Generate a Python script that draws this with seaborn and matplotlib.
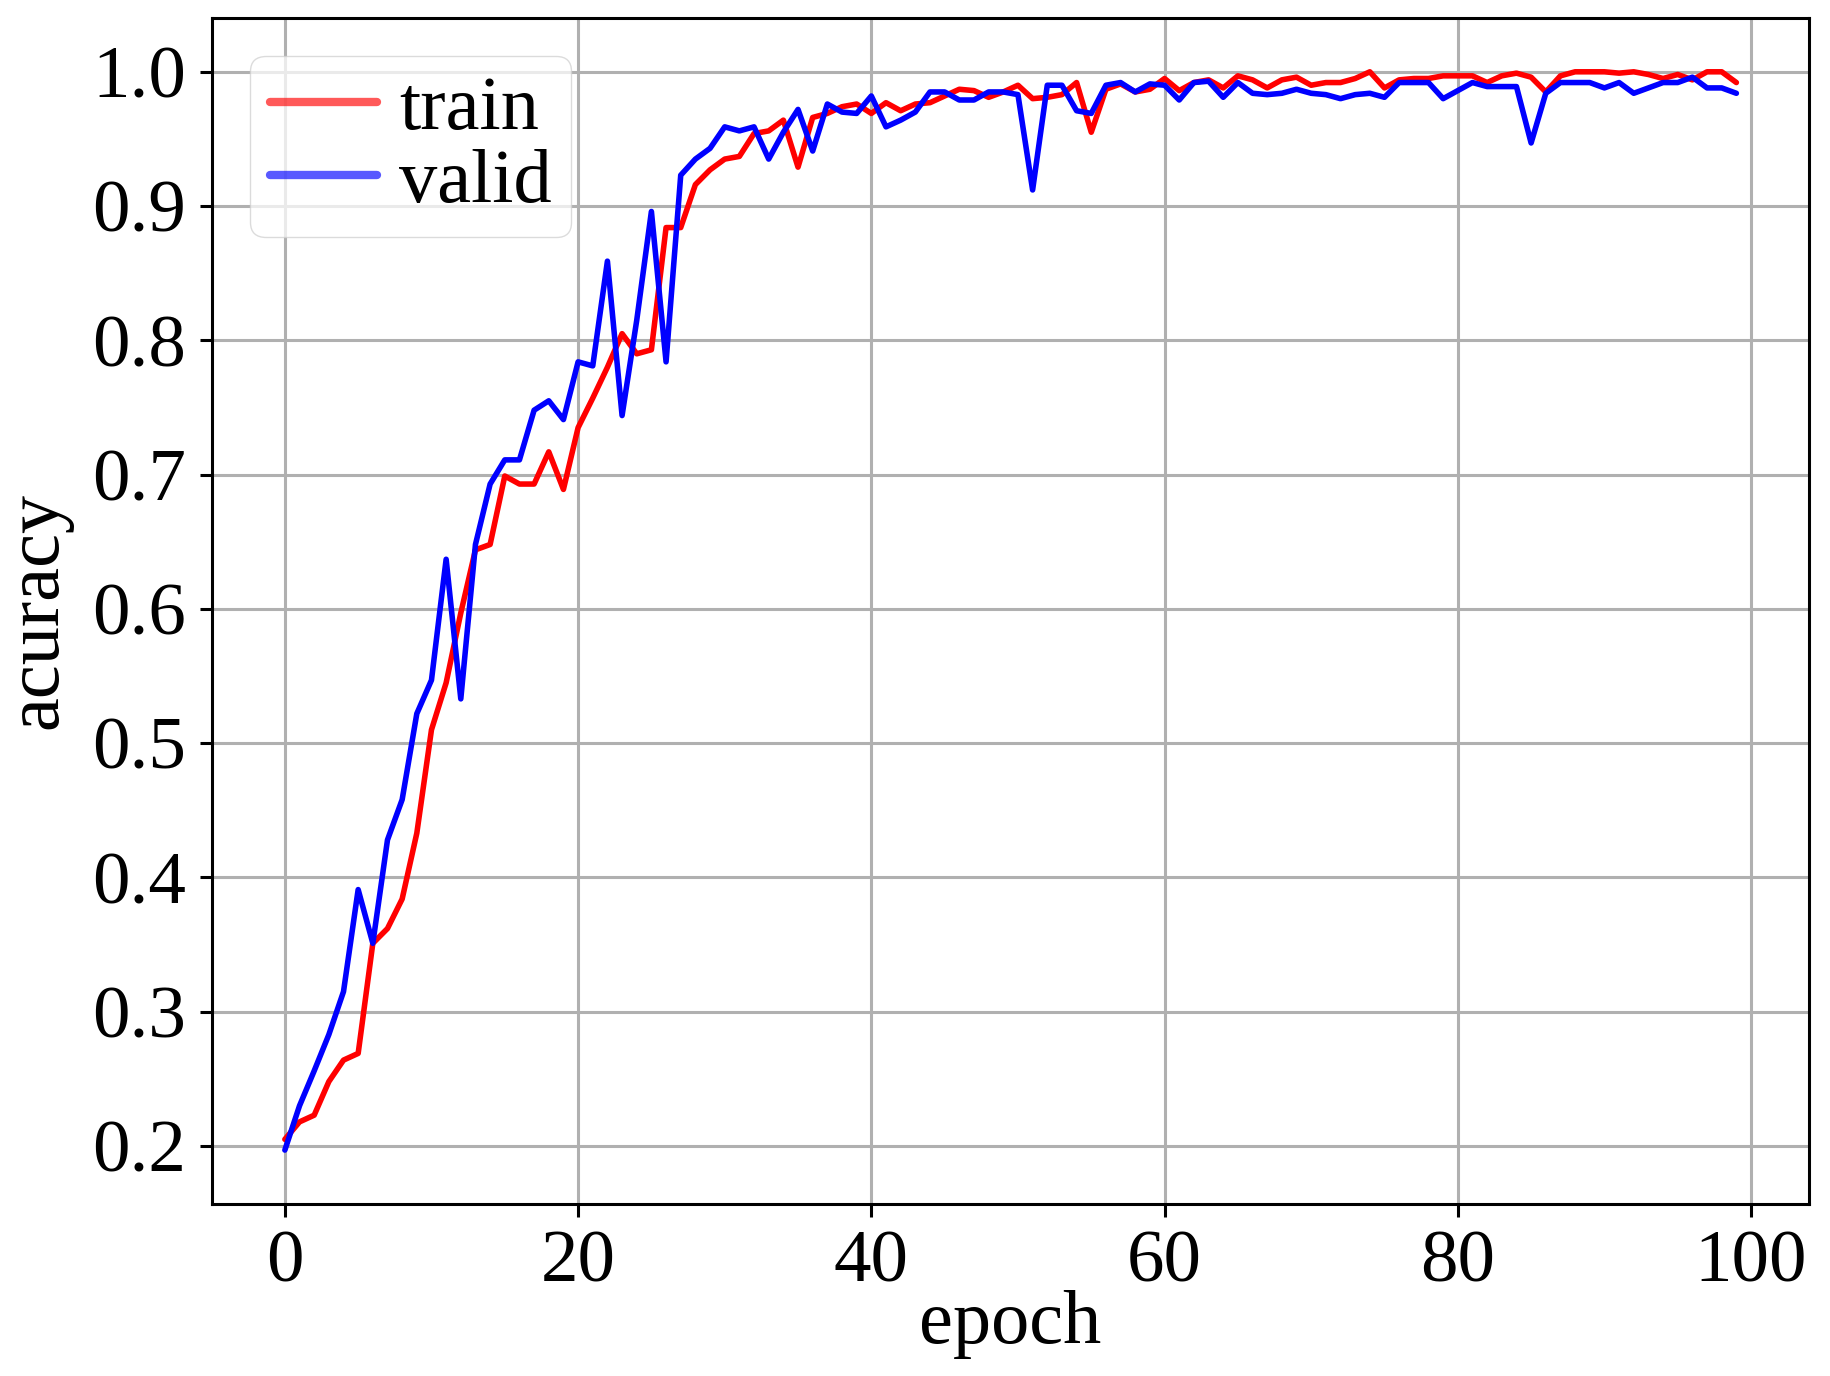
import numpy as np
import pandas as pd
import matplotlib
matplotlib.use("Agg")
import matplotlib.pyplot as plt
import seaborn as sns

epochs = list(range(100))

train_acc = [
    0.205, 0.218, 0.223, 0.248, 0.264, 0.269, 0.351, 0.362, 0.384, 0.433,
    0.510, 0.545, 0.597, 0.644, 0.648, 0.699, 0.693, 0.693, 0.717, 0.689,
    0.735, 0.757, 0.780, 0.805, 0.790, 0.793, 0.884, 0.884, 0.916, 0.927,
    0.935, 0.937, 0.954, 0.956, 0.964, 0.929, 0.966, 0.969, 0.974, 0.976,
    0.969, 0.977, 0.971, 0.976, 0.977, 0.982, 0.987, 0.986, 0.981, 0.985,
    0.990, 0.980, 0.981, 0.983, 0.992, 0.955, 0.987, 0.991, 0.985, 0.987,
    0.995, 0.986, 0.992, 0.994, 0.988, 0.997, 0.994, 0.988, 0.994, 0.996,
    0.990, 0.992, 0.992, 0.995, 1.000, 0.988, 0.994, 0.995, 0.995, 0.997,
    0.997, 0.997, 0.992, 0.997, 0.999, 0.996, 0.985, 0.997, 1.000, 1.000,
    1.000, 0.999, 1.000, 0.998, 0.995, 0.998, 0.994, 1.000, 1.000, 0.992,
]

valid_acc = [
    0.197, 0.230, 0.256, 0.283, 0.315, 0.391, 0.351, 0.428, 0.458, 0.522,
    0.547, 0.637, 0.533, 0.648, 0.693, 0.711, 0.711, 0.748, 0.755, 0.741,
    0.784, 0.781, 0.859, 0.744, 0.815, 0.896, 0.784, 0.923, 0.935, 0.943,
    0.959, 0.956, 0.959, 0.935, 0.955, 0.972, 0.941, 0.976, 0.970, 0.969,
    0.982, 0.959, 0.964, 0.970, 0.985, 0.985, 0.979, 0.979, 0.985, 0.985,
    0.983, 0.912, 0.990, 0.990, 0.971, 0.969, 0.990, 0.992, 0.985, 0.991,
    0.990, 0.979, 0.992, 0.993, 0.981, 0.992, 0.984, 0.983, 0.984, 0.987,
    0.984, 0.983, 0.980, 0.983, 0.984, 0.981, 0.992, 0.992, 0.992, 0.980,
    0.986, 0.992, 0.989, 0.989, 0.989, 0.947, 0.984, 0.992, 0.992, 0.992,
    0.988, 0.992, 0.984, 0.988, 0.992, 0.992, 0.996, 0.988, 0.988, 0.984,
]

series_names = ["train", "valid"]
series_colors = ["#ff0000", "#0000ff"]
x_ticks = [0, 20, 40, 60, 80, 100]
y_ticks = [0.2, 0.3, 0.4, 0.5, 0.6, 0.7, 0.8, 0.9, 1.0]

df = pd.DataFrame({
    "epoch": epochs * 2,
    "acc": train_acc + valid_acc,
    "set": [series_names[0]] * len(epochs) + [series_names[1]] * len(epochs),
})

sns.set_theme(style="ticks")
plt.rcParams["font.family"] = ["Liberation Serif", "DejaVu Serif"]
plt.rcParams["text.color"] = "black"
plt.rcParams["axes.labelcolor"] = "black"

fig = plt.figure(figsize=(18.30, 13.76), dpi=100)
ax = fig.add_axes([0.116, 0.125, 0.8725, 0.862])

sns.lineplot(data=df, x="epoch", y="acc", hue="set",
             palette=dict(zip(series_names, series_colors)),
             linewidth=4.0, ax=ax, legend=True)

ax.set_xticks(x_ticks)
ax.set_yticks(y_ticks)
ax.set_yticklabels([f"{v:.1f}" for v in y_ticks])
ax.margins(x=0.05, y=0.05)
ax.grid(True, color="#b0b0b0", linewidth=2.2)
ax.set_axisbelow(True)

for sp in ax.spines.values():
    sp.set_linewidth(2.2)
    sp.set_color("black")
ax.tick_params(axis="both", labelsize=54, length=9, width=2.2,
               colors="black", labelcolor="black", pad=10)

ax.set_xlabel("epoch", fontsize=55, labelpad=-6, color="black")
ax.set_ylabel("acuracy", fontsize=55, labelpad=14, color="black")

leg = ax.legend(loc="upper left", fontsize=55, handlelength=1.4,
                handletextpad=0.3, labelspacing=0.05, borderpad=0.25,
                framealpha=0.75, edgecolor="#d0d0d0", fancybox=True,
                borderaxespad=0.5)
leg.set_title(None)
for t in leg.get_texts():
    t.set_color("black")
for h in leg.get_lines():
    h.set_alpha(0.65)
    h.set_linewidth(6)

fig.savefig("out.png", dpi=100)
